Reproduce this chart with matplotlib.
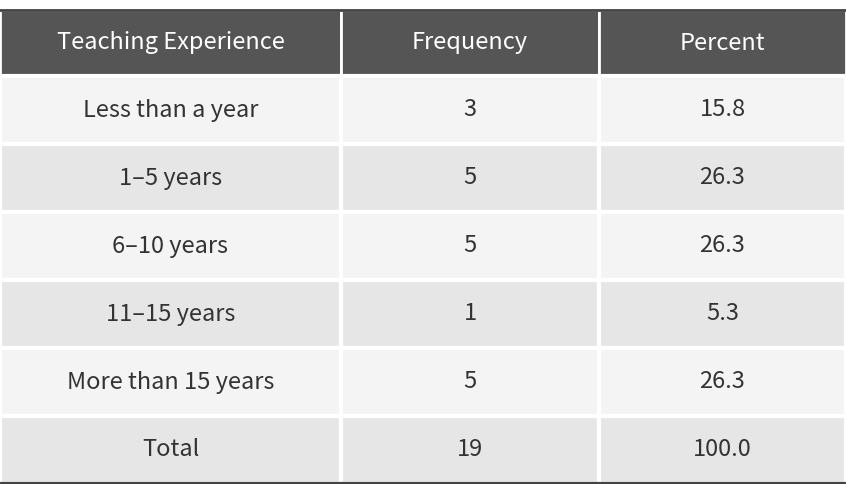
import matplotlib.pyplot as plt
from matplotlib.patches import Rectangle

header = ['Teaching Experience', 'Frequency', 'Percent']
experience = ['Less than a year', '1\u20135 years', '6\u201310 years', '11\u201315 years',
              'More than 15 years', 'Total']
frequency = ['3', '5', '5', '1', '5', '19']
percent = ['15.8', '26.3', '26.3', '5.3', '26.3', '100.0']

plt.rcParams['font.family'] = ['Noto Sans CJK KR', 'DejaVu Sans']

fig = plt.figure(figsize=(8.46, 4.84), dpi=100)
ax = fig.add_axes([0, 0, 1, 1])
ax.set_xlim(0, 846)
ax.set_ylim(484, 0)
ax.axis('off')

col_x = [0, 341, 599, 846]
top = 10
head_h = 66
row_h = 68

# header
for c in range(3):
    ax.add_patch(Rectangle((col_x[c], top), col_x[c + 1] - col_x[c], head_h,
                           facecolor='#555555', edgecolor='white', lw=2))
    ax.text((col_x[c] + col_x[c + 1]) / 2, top + head_h / 2, header[c],
            ha='center', va='center', color='white', fontsize=17, fontweight='light')

rows = list(zip(experience, frequency, percent))
for r, vals in enumerate(rows):
    y0 = top + head_h + r * row_h
    fc = '#f4f4f4' if r % 2 == 0 else '#e6e6e6'
    for c in range(3):
        ax.add_patch(Rectangle((col_x[c], y0), col_x[c + 1] - col_x[c], row_h,
                               facecolor=fc, edgecolor='white', lw=3))
        ax.text((col_x[c] + col_x[c + 1]) / 2, y0 + row_h / 2, vals[c],
                ha='center', va='center', color='#333333', fontsize=17, fontweight='light')

bottom = top + head_h + len(rows) * row_h
ax.plot([0, 846], [top, top], color='#444444', lw=2)
ax.plot([0, 846], [bottom, bottom], color='#444444', lw=3)

fig.savefig('out.png', dpi=100)
